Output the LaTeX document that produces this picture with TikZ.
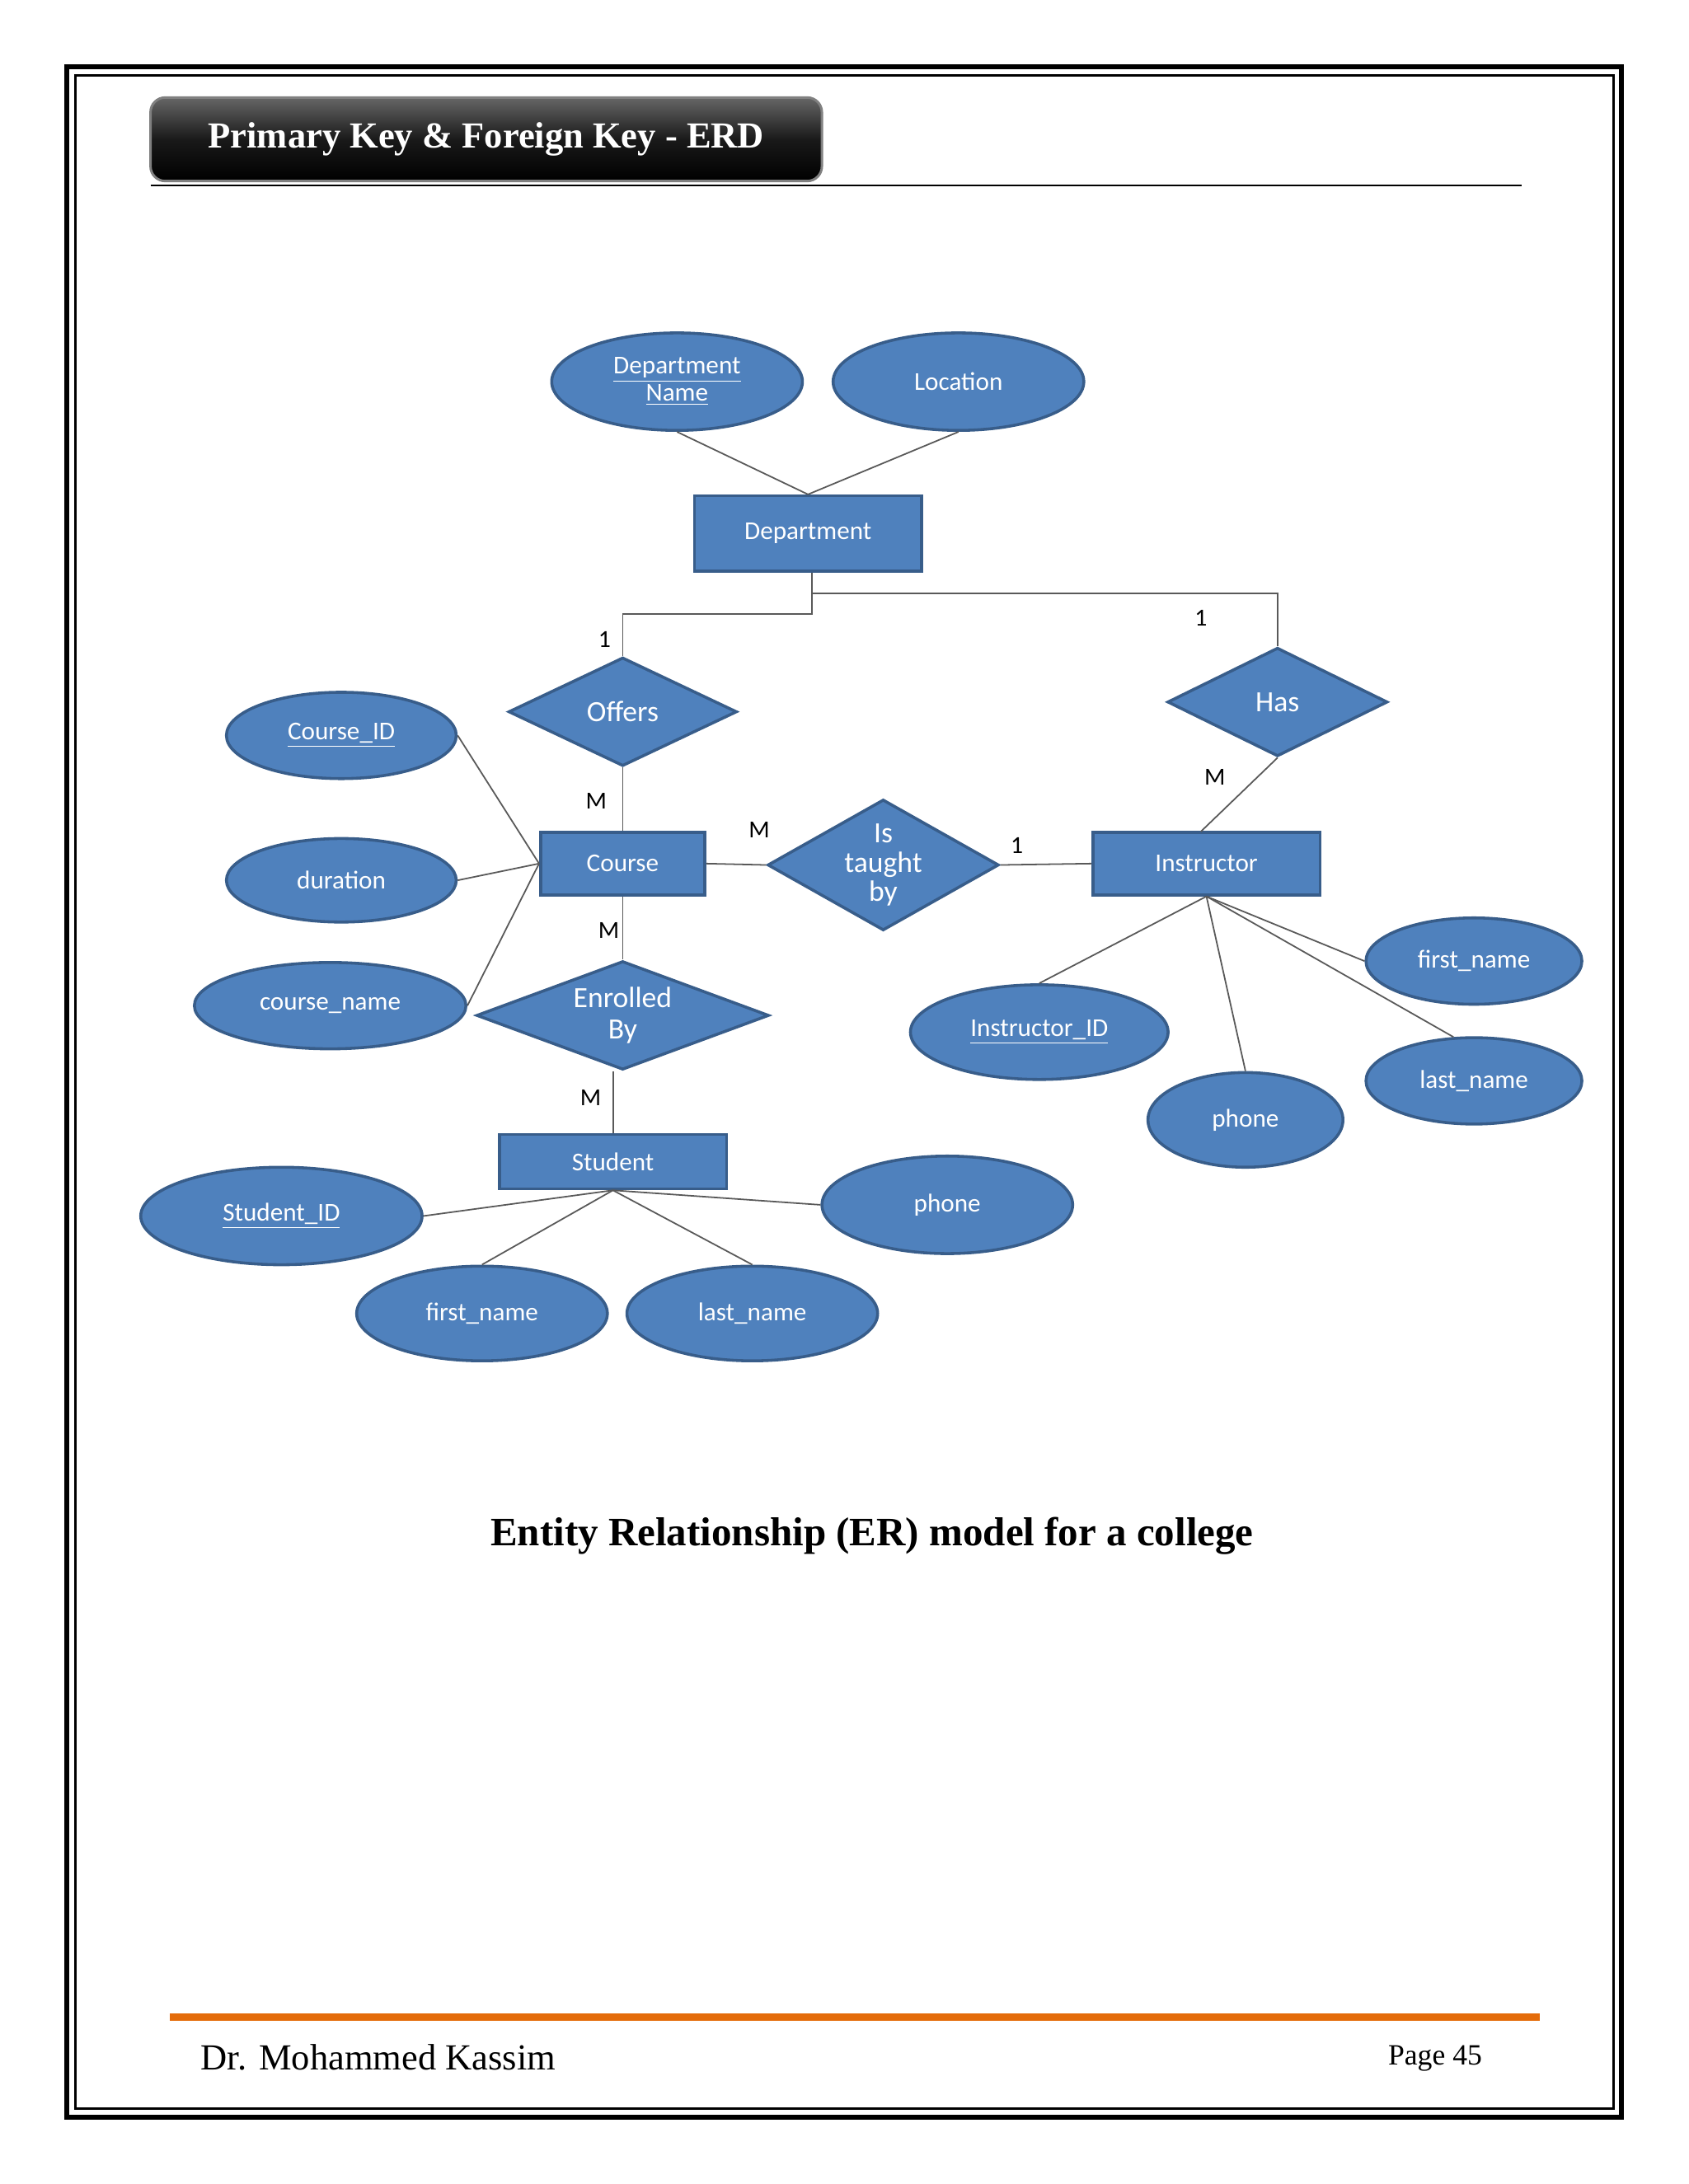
\documentclass[tikz,border=0pt]{standalone}
\usepackage{fontspec}
\setmainfont{Liberation Serif}
\newfontfamily\dfont{Carlito}
\usetikzlibrary{shapes.geometric}
\definecolor{bfill}{HTML}{4F81BD}
\definecolor{bline}{HTML}{385D8A}
\definecolor{orng}{HTML}{E46C0A}
\begin{document}
\begin{tikzpicture}[x=0.02cm,y=-0.02cm,
  attr/.style={ellipse,fill=bfill,draw=bline,line width=1.2pt,text=white,font=\dfont\fontsize{10.5}{12}\selectfont,minimum width=#1},
  ent/.style={rectangle,fill=bfill,draw=bline,line width=1.2pt,text=white,font=\dfont\fontsize{10.5}{12}\selectfont,minimum height=0.9cm},
  rel/.style={diamond,fill=bfill,draw=bline,line width=1.2pt,text=white,font=\dfont\fontsize{12}{14}\selectfont,inner sep=0pt,align=center},
  con/.style={draw=black!65,line width=0.6pt},
  card/.style={font=\dfont\fontsize{10}{12}\selectfont}]
\useasboundingbox (0,0) rectangle (1212,1568);
\draw[line width=2pt] (48,48) rectangle (1164,1520);
\draw[line width=1pt] (54,54) rectangle (1158,1514);
% title
\node[draw=gray,rounded corners=6pt,line width=1pt,top color=black!60,bottom color=black,middle color=black!90,minimum width=9.64cm,minimum height=1.2cm,text=white,font=\bfseries\fontsize{15}{18}\selectfont] (title) at (349,100) {Primary Key \& Foreign Key - ERD};
\draw[line width=0.8pt] (108,133) -- (1092,133);
% diagram
\node[attr=3.6cm,minimum height=1.4cm,align=center] (dn) at (486,274) {\underline{Department}\\[-1pt]\underline{Name}};
\node[attr=3.6cm,minimum height=1.4cm] (loc) at (688,274) {Location};
\node[ent,minimum width=3.26cm,minimum height=1.08cm] (dept) at (580,383) {Department};
\node[rel,minimum width=3.28cm,minimum height=1.56cm] (offers) at (447,511) {Offers};
\node[rel,minimum width=3.16cm,minimum height=1.56cm] (has) at (917,504) {Has};
\node[attr=3.3cm,minimum height=1.24cm] (cid) at (245,528) {\underline{Course\_ID}};
\node[attr=3.3cm,minimum height=1.2cm] (dur) at (245,632) {duration};
\node[attr=3.9cm,minimum height=1.24cm] (cname) at (237,722) {course\_name};
\node[ent,minimum width=2.36cm] (course) at (447,620) {Course};
\node[rel,minimum width=3.32cm,minimum height=1.88cm,inner sep=-4pt] (taught) at (634,621) {Is\\[-2pt]taught\\[-2pt]by};
\node[ent,minimum width=3.26cm] (instr) at (866,620) {Instructor};
\node[rel,minimum width=4.2cm,minimum height=1.56cm,inner sep=-8pt] (enr) at (447,729) {Enrolled\\[-1pt]By};
\node[ent,minimum width=3.26cm,minimum height=0.78cm] (stud) at (440,834) {Student};
\node[attr=3.7cm,minimum height=1.36cm] (iid) at (746,741) {\underline{Instructor\_ID}};
\node[attr=2.8cm,minimum height=1.36cm] (iph) at (894,804) {phone};
\node[attr=3.1cm,minimum height=1.24cm] (ifn) at (1058,690) {first\_name};
\node[attr=3.1cm,minimum height=1.24cm] (iln) at (1058,776) {last\_name};
\node[attr=4.04cm,minimum height=1.4cm] (sid) at (202,873) {\underline{Student\_ID}};
\node[attr=3.6cm,minimum height=1.36cm] (sfn) at (346,943) {first\_name};
\node[attr=3.6cm,minimum height=1.36cm] (sln) at (540,943) {last\_name};
\node[attr=3.6cm,minimum height=1.4cm] (sph) at (680,865) {phone};
% connectors
\coordinate (d1) at (583,441); \coordinate (d2) at (447,441);
\coordinate (d3) at (583,426); \coordinate (d4) at (917,426);
\draw[con] (dn.south) -- (dept.north);
\draw[con] (loc.south) -- (dept.north);
\draw[con] (dept.south -| d1) -- (d1) -- (d2) -- (offers.north);
\draw[con] (d3) -- (d4) -- (has.north);
\draw[con] (offers.south) -- (course.north);
\draw[con] (has.south) -- (862,597);
\draw[con] (course.east) -- (taught.west);
\draw[con] (taught.east) -- (instr.west);
\draw[con] (course.south) -- (enr.north);
\draw[con] (enr.south -| stud.north) -- (stud.north);
\draw[con] (course.west) -- (cid.east);
\draw[con] (course.west) -- (dur.east);
\draw[con] (course.west) -- (cname.east);
\draw[con] (instr.south) -- (iid.north);
\draw[con] (instr.south) -- (iph.north);
\draw[con] (instr.south) -- (ifn.west);
\draw[con] (instr.south) -- (iln.115);
\draw[con] (stud.south) -- (sid.east);
\draw[con] (stud.south) -- (sfn.north);
\draw[con] (stud.south) -- (sln.north);
\draw[con] (stud.south) -- (sph.west);
% cardinalities
\node[card] (c1) at (434,459) {1};
\node[card] (c2) at (862,444) {1};
\node[card] (c3) at (428,575) {M};
\node[card] (c4) at (872,558) {M};
\node[card] (c5) at (545,596) {M};
\node[card] (c6) at (730,607) {1};
\node[card] (c7) at (437,668) {M};
\node[card] (c8) at (424,788) {M};
% caption and footer
\node[font=\bfseries\fontsize{16.5}{20}\selectfont] (cap) at (626,1103) {Entity Relationship (ER) model for a college};
\draw[orng,line width=3pt] (122,1448) -- (1105,1448);
\node[anchor=west,font=\fontsize{15}{18}\selectfont] (auth) at (138,1477) {Dr. Mohammed Kassim};
\node[anchor=east,font=\fontsize{12}{14}\selectfont] (pg) at (1070,1478) {Page 45};
\end{tikzpicture}
\end{document}
